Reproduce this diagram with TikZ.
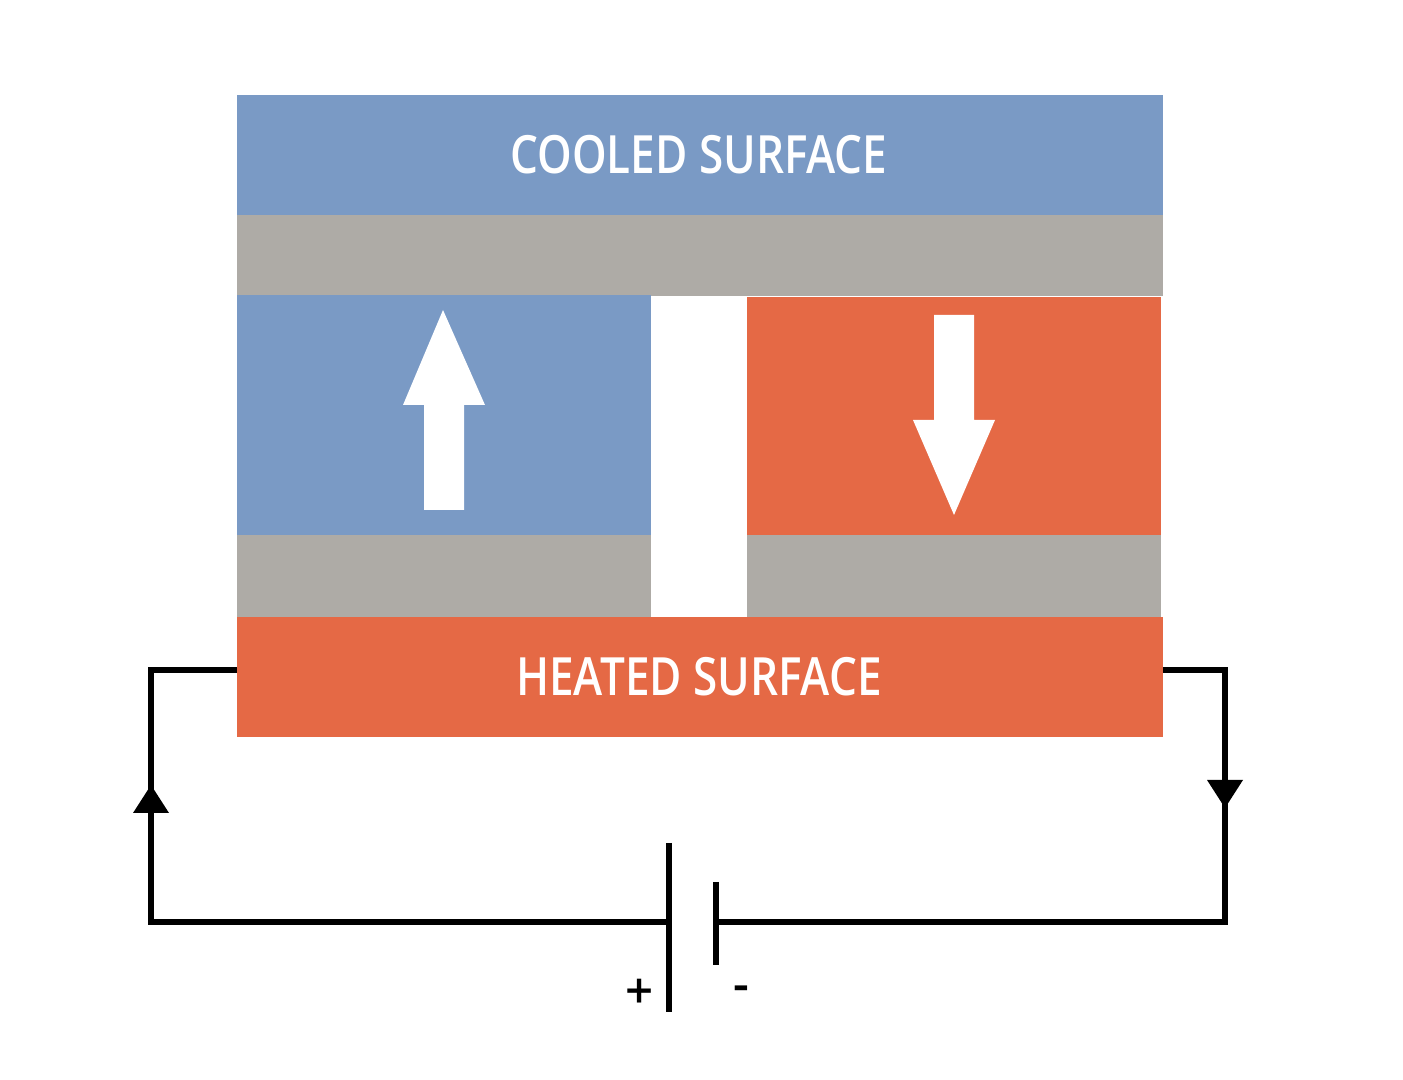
\documentclass[tikz,border=0pt]{standalone}
\usepackage{fontspec}
\setmainfont{Noto Sans}
\newfontfamily\lblfont{Open Sans}[BoldFont={* Semibold}]
\begin{document}
\definecolor{cblue}{HTML}{7A9AC5}
\definecolor{cgray}{HTML}{AEABA6}
\definecolor{corange}{HTML}{E56945}
\begin{tikzpicture}[x=0.01cm,y=-0.01cm,
  lbl/.style={text=white,font=\lblfont\fontsize{15}{18}\selectfont\bfseries,xscale=0.835},
  wire/.style={line width=1.7pt,line join=miter},
  tip/.style={fill=black}]
\useasboundingbox (0,0) rectangle (1403,1080);
\fill[cblue] (237,95) rectangle (1163,215);
\fill[cgray] (237,215) rectangle (1163,296);
\fill[cblue] (237,295) rectangle (651,536);
\fill[corange] (747,297) rectangle (1161,536);
\fill[cgray] (237,535) rectangle (651,618);
\fill[cgray] (747,535) rectangle (1161,618);
\fill[corange] (237,617) rectangle (1163,737);
\node[lbl] (cool) at (699,155) {COOLED SURFACE};
\node[lbl] (heat) at (699,677) {HEATED SURFACE};
\fill[white] (424,510) -- (424,405) -- (403,405) -- (443,310) -- (485,405) -- (464,405) -- (464,510) -- cycle;
\fill[white] (934,315) -- (934,420) -- (913,420) -- (954,515) -- (995,420) -- (974,420) -- (974,315) -- cycle;
\coordinate (pl) at (669,922);
\coordinate (mn) at (716,922);
\draw[wire] (237,670) -- (151,670) -- (151,922) -- (pl);
\draw[wire] (mn) -- (1225,922) -- (1225,670) -- (1163,670);
\draw[wire] (669,843) -- (669,1012);
\draw[wire] (716,882) -- (716,965);
\fill[tip] (151,785) -- (133,813) -- (169,813) -- cycle;
\fill[tip] (1225,808) -- (1207,780) -- (1243,780) -- cycle;
\node[font=\lblfont\fontsize{14}{16}\selectfont\bfseries] (plus) at (640,994) {+};
\node[font=\lblfont\fontsize{14}{16}\selectfont\bfseries] (minus) at (741,994) {-};
\end{tikzpicture}
\end{document}
